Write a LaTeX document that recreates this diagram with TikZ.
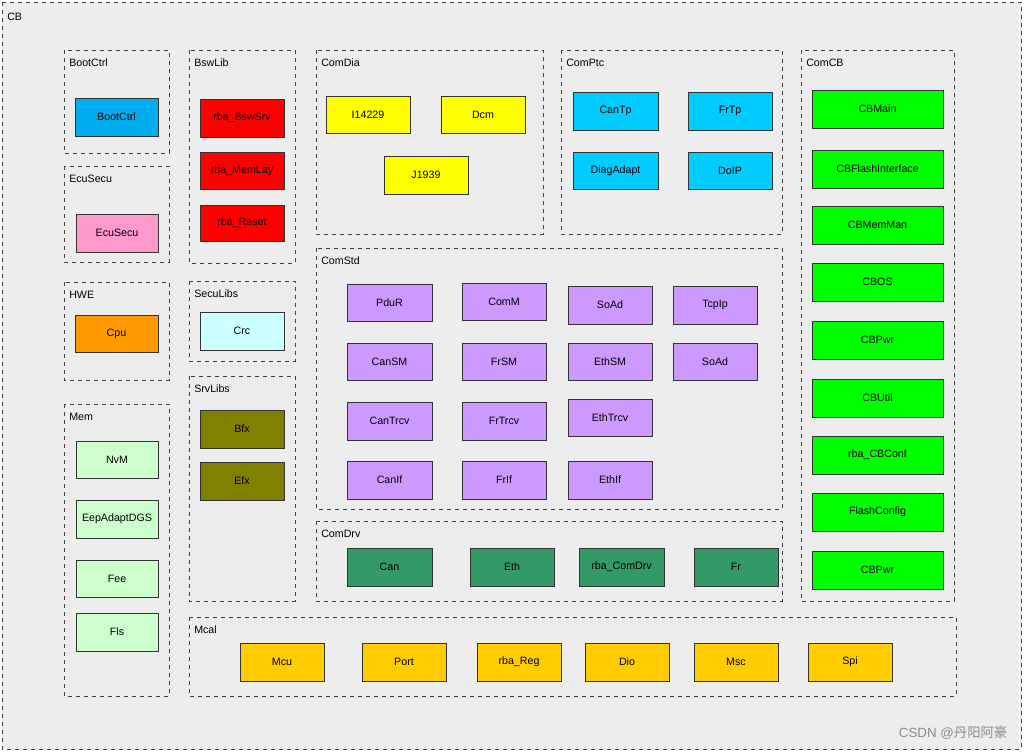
\documentclass[tikz,border=0pt]{standalone}
\usepackage{fontspec}
\setmainfont{Liberation Sans}
\newfontfamily\cjk{Noto Sans CJK SC}
\usetikzlibrary{calc}
\tikzset{
 box/.style={draw=black!80,line width=0.5pt,inner sep=0pt,font=\fontsize{8}{9}\selectfont},
 grp/.style={draw=black!75,dashed,line width=0.5pt},
 glab/.style={anchor=west,font=\fontsize{8}{9}\selectfont,inner sep=0pt}
}
\newcommand\bx[7]{%
 \pgfmathsetlengthmacro\bw{(#4-#2)*0.75pt}%
 \pgfmathsetlengthmacro\bh{(#5-#3)*0.75pt}%
 \node[box,fill=#6,minimum width=\bw,minimum height=\bh] (#1) at ({(#2+#4)/2},{(#3+#5)/2}) {#7};}
\newcommand\gp[6]{%
 \draw[grp] (#2,#3) rectangle (#4,#5);
 \node[glab] (#1) at (#2+5,#3+13) {#6};}
\definecolor{cpink}{HTML}{FF99CC}
\definecolor{corange}{HTML}{FF9900}
\definecolor{clgreen}{HTML}{CCFFCC}
\definecolor{ccyan}{HTML}{CCFFFF}
\definecolor{colive}{HTML}{808000}
\definecolor{cyel}{HTML}{FFFF00}
\definecolor{cblue}{HTML}{00CCFF}
\definecolor{cpurp}{HTML}{CC99FF}
\definecolor{cdgreen}{HTML}{339966}
\definecolor{cgreen}{HTML}{00FF00}
\definecolor{cgold}{HTML}{FFCC00}
\begin{document}
\begin{tikzpicture}[x=0.75pt,y=-0.75pt]
\useasboundingbox (0,0) rectangle (1024,751);
\fill[white] (0,0) rectangle (1024,751);
\draw[grp,fill=black!7] (2,2) rectangle (1021,749);
\node[glab] (cb) at (7,17) {CB};
\gp{gBoot}{64}{50}{169}{153}{BootCtrl}
\bx{BootCtrl}{75}{98}{158}{136}{cyan}{BootCtrl}
\gp{gEcu}{64}{166}{169}{262}{EcuSecu}
\bx{EcuSecu}{76}{214}{158}{252}{cpink}{EcuSecu}
\gp{gHWE}{64}{282}{169}{380}{HWE}
\bx{Cpu}{75}{315}{158}{352}{corange}{Cpu}
\gp{gMem}{64}{404}{169}{696}{Mem}
\bx{NvM}{76}{441}{158}{478}{clgreen}{NvM}
\bx{Eep}{76}{500}{158}{538}{clgreen}{EepAdaptDGS}
\bx{Fee}{76}{560}{158}{597}{clgreen}{Fee}
\bx{Fls}{76}{613}{158}{651}{clgreen}{Fls}
\gp{gBsw}{189}{50}{295}{263}{BswLib}
\bx{BswSrv}{200}{99}{284}{137}{red}{rba\_BswSrv}
\bx{MemLay}{200}{152}{284}{189}{red}{rba\_MemLay}
\bx{Reset}{200}{205}{284}{241}{red}{rba\_Reset}
\gp{gSecu}{189}{281}{295}{361}{SecuLibs}
\bx{Crc}{200}{312}{284}{350}{ccyan}{Crc}
\gp{gSrv}{189}{376}{295}{601}{SrvLibs}
\bx{Bfx}{200}{410}{284}{448}{colive}{Bfx}
\bx{Efx}{200}{462}{284}{500}{colive}{Efx}
\gp{gDia}{316}{50}{543}{234}{ComDia}
\bx{I14229}{326}{96}{410}{133}{cyel}{I14229}
\bx{Dcm}{441}{96}{525}{133}{cyel}{Dcm}
\bx{J1939}{384}{156}{468}{194}{cyel}{J1939}
\gp{gPtc}{561}{50}{782}{234}{ComPtc}
\bx{CanTp}{573}{92}{658}{130}{cblue}{CanTp}
\bx{FrTp}{688}{92}{772}{130}{cblue}{FrTp}
\bx{Diag}{573}{152}{658}{189}{cblue}{DiagAdapt}
\bx{DoIP}{688}{152}{772}{189}{cblue}{DoIP}
\gp{gStd}{316}{248}{782}{509}{ComStd}
\bx{PduR}{347}{284}{432}{321}{cpurp}{PduR}
\bx{ComM}{462}{283}{546}{320}{cpurp}{ComM}
\bx{SoAd1}{568}{286}{652}{324}{cpurp}{SoAd}
\bx{TcpIp}{673}{286}{757}{324}{cpurp}{TcpIp}
\bx{CanSM}{347}{343}{432}{380}{cpurp}{CanSM}
\bx{FrSM}{462}{343}{546}{380}{cpurp}{FrSM}
\bx{EthSM}{568}{343}{652}{380}{cpurp}{EthSM}
\bx{SoAd2}{673}{343}{757}{380}{cpurp}{SoAd}
\bx{CanTrcv}{347}{402}{432}{440}{cpurp}{CanTrcv}
\bx{FrTrcv}{462}{402}{546}{440}{cpurp}{FrTrcv}
\bx{EthTrcv}{568}{399}{652}{436}{cpurp}{EthTrcv}
\bx{CanIf}{347}{461}{432}{499}{cpurp}{CanIf}
\bx{FrIf}{462}{461}{546}{499}{cpurp}{FrIf}
\bx{EthIf}{568}{461}{652}{499}{cpurp}{EthIf}
\gp{gDrv}{316}{521}{782}{601}{ComDrv}
\bx{Can}{347}{548}{432}{586}{cdgreen}{Can}
\bx{Eth}{470}{548}{554}{586}{cdgreen}{Eth}
\bx{ComDrv}{579}{548}{664}{586}{cdgreen}{rba\_ComDrv}
\bx{Fr}{694}{548}{778}{586}{cdgreen}{Fr}
\gp{gCB}{801}{50}{954}{601}{ComCB}
\bx{CBMain}{812}{90}{943}{128}{cgreen}{CBMain}
\bx{CBFlash}{812}{150}{943}{188}{cgreen}{CBFlashInterface}
\bx{CBMemMan}{812}{206}{943}{244}{cgreen}{CBMemMan}
\bx{CBOS}{812}{263}{943}{301}{cgreen}{CBOS}
\bx{CBPwr1}{812}{321}{943}{359}{cgreen}{CBPwr}
\bx{CBUtil}{812}{379}{943}{417}{cgreen}{CBUtil}
\bx{CBConf}{812}{436}{943}{474}{cgreen}{rba\_CBConf}
\bx{FlashConfig}{812}{493}{943}{531}{cgreen}{FlashConfig}
\bx{CBPwr2}{812}{551}{943}{589}{cgreen}{CBPwr}
\gp{gMcal}{189}{617}{956}{696}{Mcal}
\bx{Mcu}{240}{643}{324}{681}{cgold}{Mcu}
\bx{Port}{362}{643}{446}{681}{cgold}{Port}
\bx{Reg}{477}{643}{561}{681}{cgold}{rba\_Reg}
\bx{Dio}{585}{643}{669}{681}{cgold}{Dio}
\bx{Msc}{694}{643}{778}{681}{cgold}{Msc}
\bx{Spi}{808}{643}{892}{681}{cgold}{Spi}
\node[anchor=east,text=black!45,font=\fontsize{10}{12}\selectfont] (wm) at (1012,733) {CSDN @{\cjk 丹阳阿豪}};
\end{tikzpicture}
\end{document}
